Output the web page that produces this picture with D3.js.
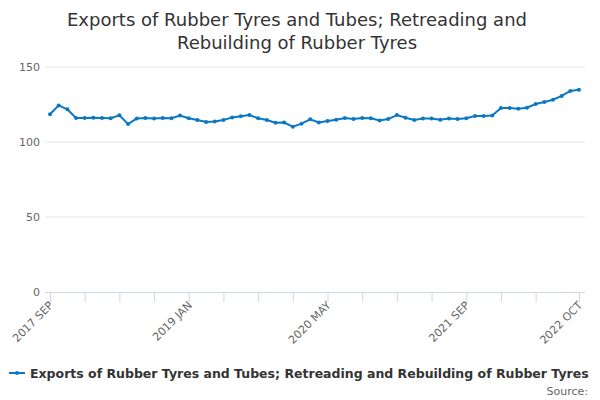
<!DOCTYPE html>
<html><head><meta charset="utf-8">
<script src="https://cdn.jsdelivr.net/npm/d3@7"></script>
<style>body{margin:0;background:#fff}svg{display:block;font-family:"DejaVu Sans",sans-serif}</style>
</head><body><svg id="c" width="600" height="400"></svg>
<script>
const titleLines = ["Exports of Rubber Tyres and Tubes; Retreading and", "Rebuilding of Rubber Tyres"];
const seriesName = "Exports of Rubber Tyres and Tubes; Retreading and Rebuilding of Rubber Tyres";
const monthNames = ["JAN","FEB","MAR","APR","MAY","JUN","JUL","AUG","SEP","OCT","NOV","DEC"];
const months = [];
for (let i = 0; i < 62; i++) { const m = (8 + i) % 12, y = 2017 + Math.floor((8 + i) / 12); months.push(y + " " + monthNames[m]); }
const values = [118.5,124.4,121.8,116,116,116.2,116,115.8,117.8,112,
  115.6,116,115.6,116,115.8,117.6,115.8,114.7,113.3,113.6,
  114.7,116.4,117.1,118,115.8,114.7,112.9,113,110.2,112.2,
  115.1,113,114,114.9,116,115.3,116,115.8,114.4,115.3,
  118,116.2,114.7,115.6,115.6,114.9,115.6,115.3,115.8,117.3,
  117.3,117.6,122.7,122.7,122.2,122.9,125.3,126.7,128.2,130.7,
  134,134.9];
const yTicks = [0,50,100,150];
const labelMonths = ["2017 SEP","2019 JAN","2020 MAY","2021 SEP","2022 OCT"];

const svg = d3.select("#c");
const x = d3.scalePoint().domain(months).range([50, 579]);
const y = d3.scaleLinear().domain([0,150]).range([292, 67]);
const color = "#0b78c4";

svg.append("g").selectAll("text").data(titleLines).join("text")
  .attr("x", 297).attr("y", (d,i)=>26 + i*23).attr("text-anchor","middle")
  .attr("font-size", 18).attr("fill","#333").text(d=>d);

// grid
svg.append("g").selectAll("line").data(yTicks.filter(d=>d>0)).join("line")
  .attr("x1", 45).attr("x2", 585).attr("y1", d=>y(d)).attr("y2", d=>y(d))
  .attr("stroke","#e6e6e6");
svg.append("g").selectAll("text").data(yTicks).join("text")
  .attr("x", 40).attr("y", d=>y(d)+4).attr("text-anchor","end")
  .attr("font-size", 11).attr("fill","#666").text(d=>d);

// x axis
const tickMonths = months.filter((d,i)=> i % 4 === 0 && i < 60).concat([months[61]]);
svg.append("line").attr("x1",45).attr("x2",585).attr("y1",292.5).attr("y2",292.5).attr("stroke","#ccd6eb");
svg.append("g").selectAll("line").data(tickMonths).join("line")
  .attr("x1", d=>x(d)+0.5).attr("x2", d=>x(d)+0.5).attr("y1",292).attr("y2",302).attr("stroke","#ccd6eb");
svg.append("g").selectAll("text").data(labelMonths).join("text")
  .attr("transform", d=>`translate(${x(d)+4},${306}) rotate(-45)`)
  .attr("text-anchor","end").attr("font-size", 11).attr("fill","#666").text(d=>d);

// line
const data = months.map((m,i)=>({m, v: values[i]}));
svg.append("path").datum(data)
  .attr("d", d3.line().x(d=>x(d.m)).y(d=>y(d.v)))
  .attr("fill","none").attr("stroke",color).attr("stroke-width",2);
svg.append("g").selectAll("circle").data(data).join("circle")
  .attr("cx", d=>x(d.m)).attr("cy", d=>y(d.v)).attr("r",2).attr("fill",color);

// legend
const lg = svg.append("g");
lg.append("line").attr("x1",9).attr("x2",25).attr("y1",373).attr("y2",373).attr("stroke",color).attr("stroke-width",2);
lg.append("circle").attr("cx",17).attr("cy",373).attr("r",2).attr("fill",color);
lg.append("text").attr("x",30).attr("y",377.5).attr("font-size",12.5).attr("font-weight","bold").attr("fill","#333").text(seriesName);
svg.append("text").attr("x",588).attr("y",395).attr("text-anchor","end").attr("font-size",11).attr("fill","#666").text("Source:");
</script></body></html>
